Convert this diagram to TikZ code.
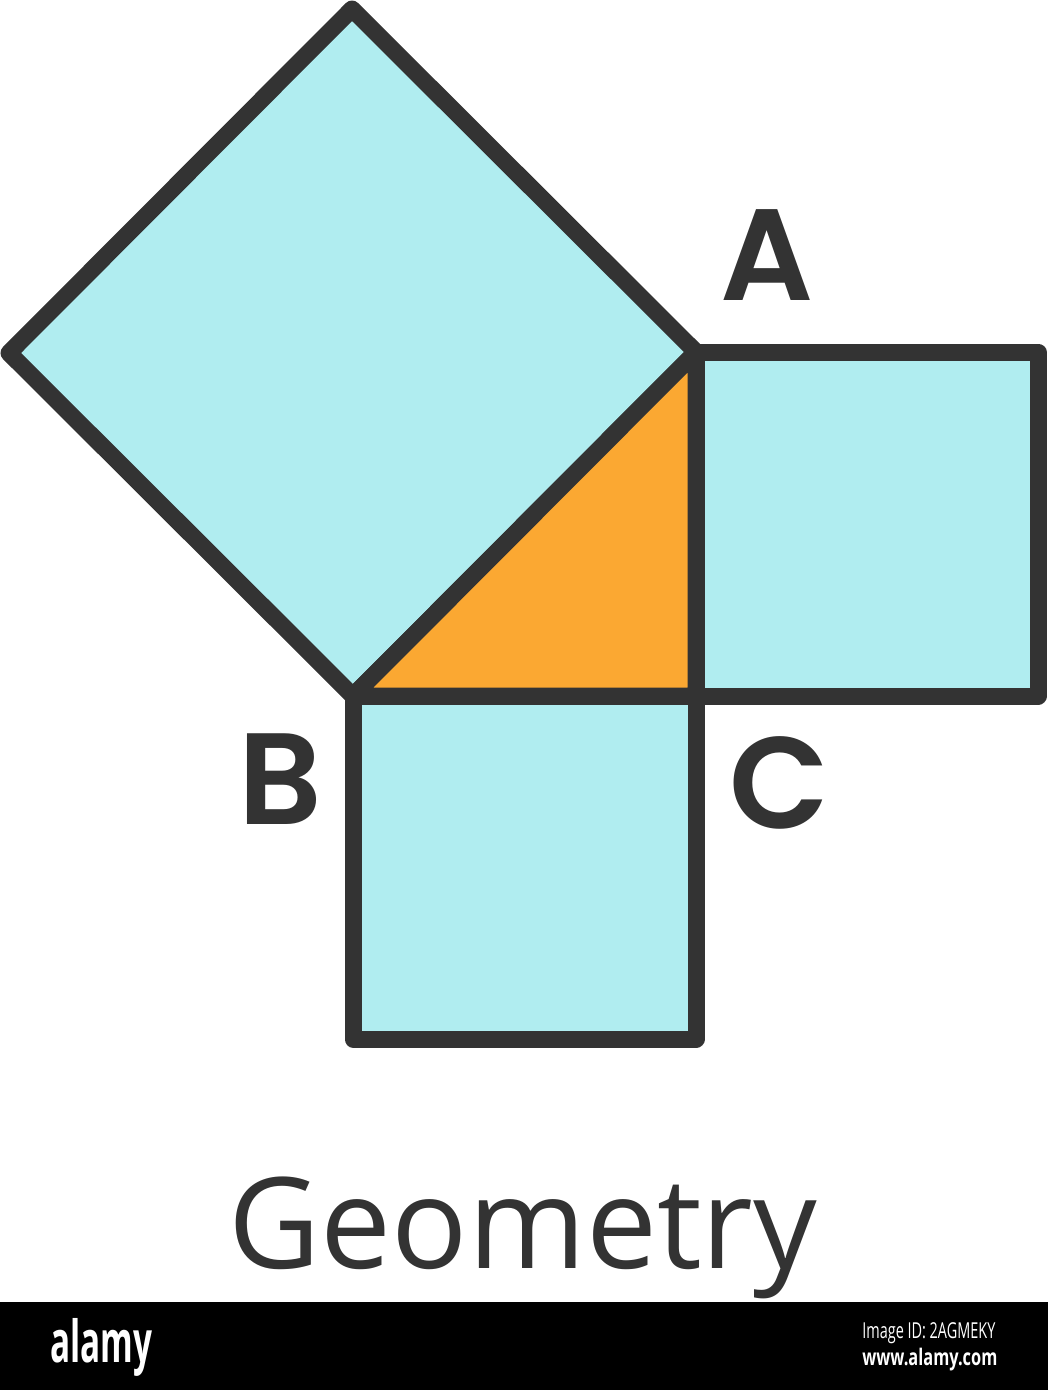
\documentclass[tikz,border=0pt]{standalone}
\usepackage{fontspec}
\usetikzlibrary{positioning}
\newfontfamily\labelfont{Poppins SemiBold}
\newfontfamily\titlefont{Open Sans}
\definecolor{sqcyan}{HTML}{B0EDF0}
\definecolor{triorange}{HTML}{FBA832}
\definecolor{inkgray}{HTML}{333333}
\tikzstyle{sq} = [fill=sqcyan, draw=inkgray, line width=3.4mm, line join=round]
\tikzstyle{tri} = [fill=triorange, draw=inkgray, line width=3.4mm, line join=round]
\tikzstyle{vlabel} = [text=inkgray, inner sep=0pt, font=\labelfont\fontsize{74}{74}\selectfont]
\tikzstyle{bartext} = [text=white, inner sep=0pt, anchor=base west]

\begin{document}
\begin{tikzpicture}[x=0.2mm, y=-0.2mm]
    \useasboundingbox (0,0) rectangle (1048,1390);
    % triangle corners
    \coordinate (A) at (696, 352);
    \coordinate (B) at (353, 696);
    \coordinate (C) at (696, 696);
    % squares on the three sides
    \draw[sq] (B) -- (A) -- (352, 9) -- (9, 353) -- cycle;
    \draw[sq] (A) -- (1038, 352) -- (1038, 696) -- (C) -- cycle;
    \draw[sq] (B) -- (C) -- (696, 1039) -- (353, 1039) -- cycle;
    \draw[tri] (A) -- (B) -- (C) -- cycle;
    % vertex labels
    \node[vlabel] (labA) at (767, 255) {A};
    \node[vlabel] (labB) at (280, 779) {B};
    \node[vlabel] (labC) at (779, 783) {C};
    % caption
    \node[text=inkgray, inner sep=0pt, anchor=base, font=\titlefont\fontsize{72}{72}\selectfont] (title) at (523, 1268) {Geometry};
    % bottom bar
    \fill[black] (0, 1302) rectangle (1048, 1390);
    \node[bartext, font=\titlefont\bfseries] (logo) at (50, 1362) {\resizebox{20.4mm}{\height}{\fontsize{33}{33}\selectfont alamy}};
    \node[bartext, font=\titlefont] (imgid) at (862, 1338) {\resizebox{26.6mm}{\height}{\fontsize{12.5}{12.5}\selectfont Image ID: 2AGMEKY}};
    \node[bartext, font=\titlefont\bfseries] (site) at (862, 1365) {\resizebox{27mm}{\height}{\fontsize{13}{13}\selectfont www.alamy.com}};
\end{tikzpicture}
\end{document}
